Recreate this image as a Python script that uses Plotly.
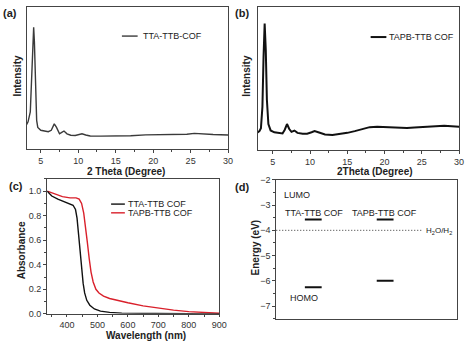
import plotly.graph_objects as go

# ---- XRD pattern, TTA-TTB-COF (2 theta in degrees, intensity in a.u.) ----
tta_2theta = [3.1, 3.3, 3.6, 3.8, 3.95, 4.05, 4.15, 4.3, 4.45, 4.6, 5.0, 5.5, 6.0, 6.4,
              6.8, 7.1, 7.5, 7.8, 8.1, 8.5, 9.0, 9.6, 10.0, 10.5, 11.0, 11.6, 13.0,
              15.0, 17.0, 19.0, 21.0, 23.0, 24.5, 25.5, 26.5, 28.0, 30.0]
tta_intensity = [0.17, 0.19, 0.26, 0.5, 0.8, 0.856, 0.75, 0.4, 0.2, 0.15, 0.13, 0.125,
                 0.12, 0.13, 0.175, 0.15, 0.105, 0.115, 0.125, 0.105, 0.095, 0.093,
                 0.097, 0.105, 0.097, 0.09, 0.089, 0.089, 0.092, 0.098, 0.1, 0.1,
                 0.102, 0.108, 0.104, 0.1, 0.097]

# ---- XRD pattern, TAPB-TTB COF ----
tapb_2theta = [2.95, 3.2, 3.4, 3.6, 3.75, 3.9, 4.05, 4.2, 4.4, 4.7, 5.2, 5.8, 6.3, 6.6,
               6.9, 7.2, 7.5, 7.9, 8.3, 9.0, 9.6, 10.2, 10.6, 11.2, 12.0, 13.0, 14.0,
               15.0, 16.0, 17.0, 18.0, 19.0, 20.0, 21.0, 22.0, 23.0, 24.0, 25.0,
               26.0, 27.0, 28.0, 29.0, 30.0]
tapb_intensity = [0.12, 0.13, 0.15, 0.3, 0.65, 0.884, 0.7, 0.35, 0.18, 0.135, 0.122,
                  0.117, 0.114, 0.14, 0.18, 0.145, 0.125, 0.134, 0.118, 0.112, 0.112,
                  0.122, 0.13, 0.12, 0.107, 0.103, 0.108, 0.118, 0.13, 0.145, 0.158,
                  0.16, 0.158, 0.155, 0.15, 0.152, 0.155, 0.158, 0.162, 0.165, 0.168,
                  0.165, 0.16]

# ---- UV-vis absorbance ----
tta_wavelength = [335, 350, 370, 390, 410, 420, 428, 433, 438, 443, 448, 453, 458, 465,
                  475, 490, 510, 540, 580, 620, 700, 800, 900]
tta_absorbance = [1.0, 0.96, 0.935, 0.915, 0.9, 0.885, 0.85, 0.78, 0.65, 0.5, 0.36,
                  0.25, 0.17, 0.11, 0.07, 0.04, 0.022, 0.012, 0.006, 0.004, 0.002,
                  0.001, 0.0]
tapb_wavelength = [335, 360, 385, 410, 430, 440, 448, 455, 461, 467, 473, 479, 486, 495,
                   505, 520, 540, 570, 600, 650, 700, 750, 800, 850, 900]
tapb_absorbance = [1.0, 0.975, 0.955, 0.945, 0.945, 0.935, 0.9, 0.82, 0.72, 0.58, 0.45,
                   0.34, 0.26, 0.2, 0.17, 0.145, 0.125, 0.105, 0.09, 0.065, 0.045,
                   0.03, 0.018, 0.01, 0.005]

# ---- Band positions (eV) ----
cof_names = ["TTA-TTB COF", "TAPB-TTB COF"]
lumo_ev = [-3.57, -3.57]
homo_ev = [-6.25, -6.0]
h2_level = -4.0

W, H = 474, 347
FONT = "Liberation Sans, Arial, sans-serif"
AX = "#444444"
RED = "#d9202b"


def px(x):
    return x / W


def py(y):
    return 1 - y / H


fig = go.Figure()

fig.add_trace(go.Scatter(x=tta_2theta, y=tta_intensity, mode="lines",
                         line=dict(color="#3a3a3a", width=1.4),
                         xaxis="x", yaxis="y", showlegend=False))
fig.add_trace(go.Scatter(x=tapb_2theta, y=tapb_intensity, mode="lines",
                         line=dict(color="#111111", width=2.0),
                         xaxis="x2", yaxis="y2", showlegend=False))
fig.add_trace(go.Scatter(x=tapb_wavelength, y=tapb_absorbance, mode="lines",
                         line=dict(color=RED, width=1.4),
                         xaxis="x3", yaxis="y3", showlegend=False))
fig.add_trace(go.Scatter(x=tta_wavelength, y=tta_absorbance, mode="lines",
                         line=dict(color="#111111", width=1.4),
                         xaxis="x3", yaxis="y3", showlegend=False))
for levels in (lumo_ev, homo_ev):
    fig.add_trace(go.Scatter(x=cof_names, y=levels, mode="markers",
                             marker=dict(symbol="line-ew-open", size=12, color="#111111",
                                         line=dict(color="#111111", width=2)),
                             xaxis="x4", yaxis="y4", showlegend=False))

tick_font = dict(family=FONT, size=9, color="#333333")
frame = dict(showline=True, linecolor=AX, linewidth=1, mirror=True,
             zeroline=False, showgrid=False, tickfont=tick_font)

fig.update_layout(
    width=W, height=H, margin=dict(l=0, r=0, t=0, b=0),
    paper_bgcolor="white", plot_bgcolor="white",
    font=dict(family=FONT, size=10, color="#222222"),
    xaxis=dict(domain=[px(27), px(232)], range=[3.1, 30], anchor="y",
               ticks="outside", ticklen=3, tickcolor=AX, dtick=5, tick0=0,
               minor=dict(ticks="outside", ticklen=2, dtick=2.5, tick0=0, tickcolor=AX),
               **frame),
    yaxis=dict(domain=[py(148), py(2)], range=[0, 1], anchor="x",
               showticklabels=False, ticks="", **frame),
    xaxis2=dict(domain=[px(262), px(467)], range=[2.95, 30], anchor="y2",
                ticks="outside", ticklen=3, tickcolor=AX, dtick=5, tick0=0,
                minor=dict(ticks="outside", ticklen=2, dtick=2.5, tick0=0, tickcolor=AX),
                **frame),
    yaxis2=dict(domain=[py(149), py(2)], range=[0, 1], anchor="x2",
                showticklabels=False, ticks="", **frame),
    xaxis3=dict(domain=[px(48), px(223)], range=[335, 900], anchor="y3",
                ticks="outside", ticklen=2, tickcolor=AX, dtick=100, tick0=0,
                minor=dict(ticks="outside", ticklen=2, dtick=50, tick0=0, tickcolor=AX),
                **frame),
    yaxis3=dict(domain=[py(318), py(179)], range=[0, 1.1], anchor="x3",
                ticks="outside", ticklen=3, tickcolor=AX, tickvals=[0, 0.2, 0.4, 0.6, 0.8, 1.0],
                tickformat=".1f",
                minor=dict(ticks="outside", ticklen=2, dtick=0.1, tick0=0, tickcolor=AX),
                **frame),
    xaxis4=dict(domain=[px(281), px(464.7)], type="category", range=[-0.515, 1.998],
                anchor="y4", showticklabels=False, ticks="", **frame),
    yaxis4=dict(domain=[py(323), py(180)], range=[-7.5, -2], anchor="x4",
                ticks="outside", ticklen=3, tickcolor=AX, dtick=1, tick0=0,
                minor=dict(ticks="outside", ticklen=2, dtick=0.5, tick0=0, tickcolor=AX),
                **frame),
)

# H2O/H2 reduction potential
fig.add_shape(type="line", xref="x4 domain", yref="y4", x0=0, x1=0.81,
              y0=h2_level, y1=h2_level,
              line=dict(color="#333333", width=1, dash="1px,2px"))

# legend samples
legend_lines = [
    (124, 140, 32, "#3a3a3a", 1.4), (377, 393, 33, "#111111", 2.0),
    (113, 127, 205, "#111111", 1.4), (113, 127, 214, RED, 1.4),
]
for x0, x1, y, col, w in legend_lines:
    fig.add_shape(type="line", xref="paper", yref="paper", x0=px(x0), x1=px(x1),
                  y0=py(y), y1=py(y), line=dict(color=col, width=w))

ann = []


def label(text, x, y, size=9, bold=False, angle=0, xanchor="center", color="#222222"):
    ann.append(dict(text=f"<b>{text}</b>" if bold else text, x=px(x), y=py(y),
                    xref="paper", yref="paper", showarrow=False, textangle=angle,
                    xanchor=xanchor, yanchor="middle",
                    font=dict(family=FONT, size=size, color=color)))


# panel tags
label("(a)", 1, 8, size=11, bold=True, xanchor="left")
label("(b)", 237, 8, size=11, bold=True, xanchor="left")
label("(c)", 7, 186, size=11, bold=True, xanchor="left")
label("(d)", 237, 187, size=11, bold=True, xanchor="left")

# axis titles
label("Intensity", 18, 73, size=10, bold=True, angle=-90)
label("2 Theta (Degree)", 128, 171, size=10, bold=True)
label("Intensity", 251, 73, size=10, bold=True, angle=-90)
label("2Theta (Degree)", 381, 171, size=10, bold=True)
label("Absorbance", 22, 253, size=10, bold=True, angle=-90)
label("Wavelength (nm)", 148, 340.5, size=10, bold=True)
label("Energy (eV)", 260, 250, size=10, bold=True, angle=-90)

# legend text
label("TTA-TTB-COF", 143, 32, xanchor="left")
label("TAPB-TTB COF", 394, 33, xanchor="left")
label("TTA-TTB COF", 128, 205, xanchor="left")
label("TAPB-TTB COF", 128, 214, xanchor="left")

# panel (d) text
label("LUMO", 287, 196, xanchor="left")
label(cof_names[0], 319.5, 214.5)
label(cof_names[1], 391.5, 214.5)
label("HOMO", 293, 302, xanchor="left")
label("H<sub>2</sub>O/H<sub>2</sub>", 431, 233, size=8, xanchor="left")

fig.update_layout(annotations=ann)
fig.write_html("out.html")
